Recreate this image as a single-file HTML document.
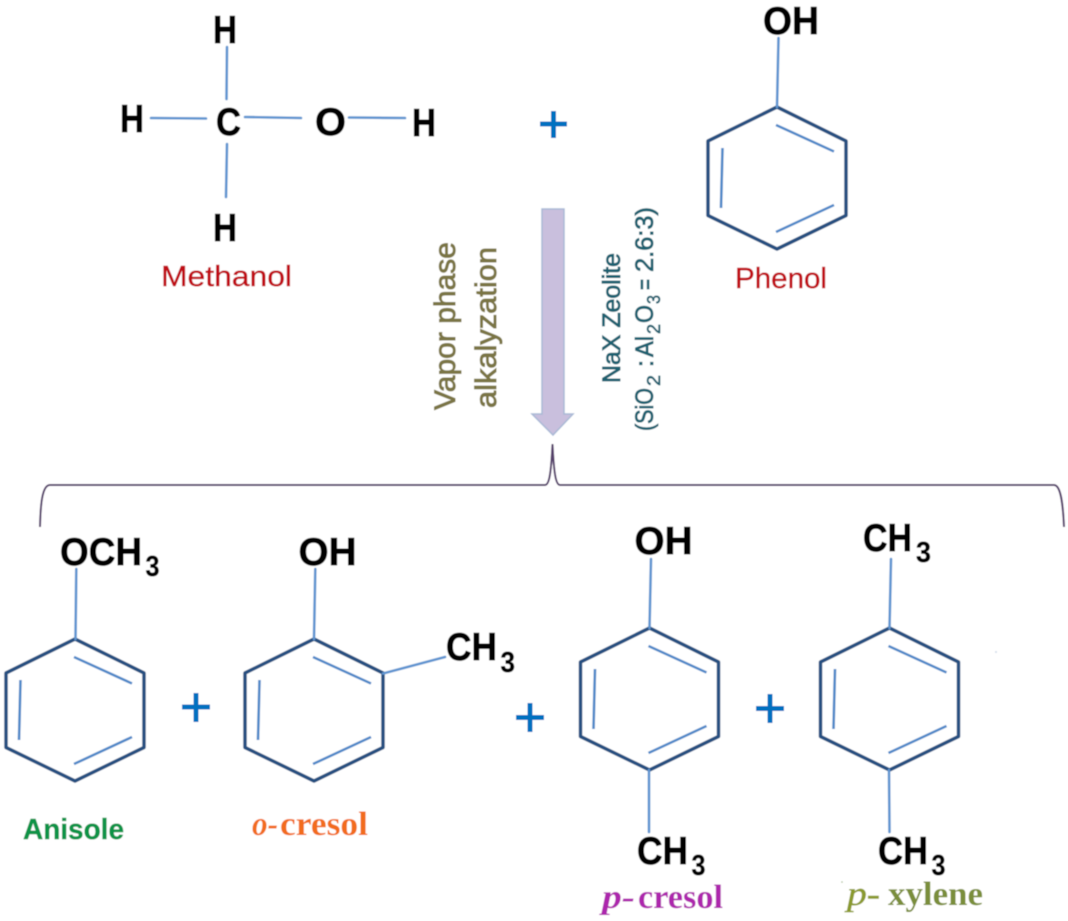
<!DOCTYPE html>
<html lang="en">
<head>
<meta charset="utf-8">
<title>Vapor phase alkylation of phenol with methanol</title>
<style>
html,body{margin:0;padding:0;background:#fff;width:1068px;height:921px;overflow:hidden}
svg{display:block}
text{font-family:"Liberation Sans",sans-serif}
.b{font-weight:bold;font-size:39px;fill:#000;stroke:#000;stroke-width:.7}
.s{font-weight:bold;font-size:29px;fill:#000;stroke:#000;stroke-width:.5}
.r{font-size:29px;fill:#c00d14;stroke:#c00d14;stroke-width:.4}
.t{font-size:25px;fill:#1f6070;stroke:#1f6070;stroke-width:.8}
.ts{font-size:18px;fill:#1f6070;stroke:#1f6070;stroke-width:.6}
.o{font-size:30px;fill:#7a7444;stroke:#7a7444;stroke-width:.9}
.f{font-family:"Liberation Serif",serif;font-weight:bold;font-size:34px}
.i{font-style:italic}
.l{stroke:#5f94d0;stroke-width:2.6;fill:none;stroke-linecap:round}
.p{stroke:#0070c0;stroke-width:5;fill:none}
</style>
</head>
<body>
<svg xmlns="http://www.w3.org/2000/svg" width="1068" height="921" viewBox="0 0 1068 921">
<defs>
<filter id="soft" x="0" y="0" width="100%" height="100%"><feGaussianBlur stdDeviation="0.55"/></filter>
<g id="ring">
<polygon points="0,0 69,34 69,108.5 0,142 -69,108.5 -69,34" fill="none" stroke="#274f80" stroke-width="3.5" stroke-linejoin="round"/>
<path d="M-1,18L57,44.5M-54.5,41L-56,101M-1,125L57,98" fill="none" stroke="#4f88c8" stroke-width="2.6"/>
</g>
</defs>
<g filter="url(#soft)">
<rect width="1068" height="921" fill="#fff"/>

<!-- Methanol -->
<path class="l" d="M227,47L226.5,99M151,118L206,118.5M245,117L301,118M349,117.5L405,118M227,144L226,197"/>
<text class="b" x="213" y="43" textLength="24" lengthAdjust="spacingAndGlyphs">H</text>
<text class="b" x="120" y="132" textLength="24" lengthAdjust="spacingAndGlyphs">H</text>
<text class="b" x="216" y="135" textLength="25" lengthAdjust="spacingAndGlyphs">C</text>
<text class="b" x="315" y="135" textLength="31" lengthAdjust="spacingAndGlyphs">O</text>
<text class="b" x="412" y="136" textLength="24" lengthAdjust="spacingAndGlyphs">H</text>
<text class="b" x="213" y="241" textLength="24" lengthAdjust="spacingAndGlyphs">H</text>
<text class="r" x="161" y="286" textLength="131" lengthAdjust="spacingAndGlyphs">Methanol</text>

<!-- Plus -->
<path class="p" d="M540,124H567M553.5,111V138"/>

<!-- Phenol -->
<use href="#ring" x="777" y="107"/>
<path class="l" d="M778.5,38L777,107"/>
<text class="b" x="763" y="34" textLength="56" lengthAdjust="spacingAndGlyphs">OH</text>
<text class="r" x="735" y="288" textLength="92" lengthAdjust="spacingAndGlyphs">Phenol</text>

<!-- Arrow -->
<polygon points="542,209 564,209 564,414 573,414 553,435 532,414 542,414" fill="#c9bfdd" stroke="#a9b9d6" stroke-width="1.5"/>

<!-- Rotated labels -->
<text class="o" transform="translate(455,410) rotate(-90)" textLength="168" lengthAdjust="spacingAndGlyphs">Vapor phase</text>
<text class="o" transform="translate(496,408) rotate(-90)" textLength="161" lengthAdjust="spacingAndGlyphs">alkalyzation</text>
<text class="t" transform="translate(620,383) rotate(-90)" textLength="130" lengthAdjust="spacingAndGlyphs">NaX Zeolite</text>
<g transform="translate(653,431) rotate(-90)">
<text class="t" x="0" y="0" textLength="43" lengthAdjust="spacingAndGlyphs">(SiO</text>
<text class="ts" x="45" y="7" textLength="11" lengthAdjust="spacingAndGlyphs">2</text>
<text class="t" x="64" y="0" textLength="7" lengthAdjust="spacingAndGlyphs">:</text>
<text class="t" x="74" y="0" textLength="21" lengthAdjust="spacingAndGlyphs">Al</text>
<text class="ts" x="97" y="7" textLength="10" lengthAdjust="spacingAndGlyphs">2</text>
<text class="t" x="108" y="0" textLength="18" lengthAdjust="spacingAndGlyphs">O</text>
<text class="ts" x="127" y="7" textLength="9" lengthAdjust="spacingAndGlyphs">3</text>
<text class="t" x="141" y="0" textLength="11" lengthAdjust="spacingAndGlyphs">=</text>
<text class="t" x="159" y="0" textLength="65" lengthAdjust="spacingAndGlyphs">2.6:3)</text>
</g>

<!-- Bracket -->
<path d="M40,527C40.5,505 42,485 50,485H545C549,485 551,475 552.5,444C554,475 556,485 560,485H1054C1061,485 1063,505 1064,527" fill="none" stroke="#54406a" stroke-width="2"/>

<!-- Anisole -->
<use href="#ring" x="75" y="639"/>
<path class="l" d="M76.3,569L75.5,639"/>
<text class="b" x="60" y="565" textLength="82" lengthAdjust="spacingAndGlyphs">OCH</text>
<text class="s" x="145.5" y="576" textLength="14" lengthAdjust="spacingAndGlyphs">3</text>
<text class="r" x="23" y="839" textLength="101" lengthAdjust="spacingAndGlyphs" style="fill:#0f9347;stroke:#0f9347;font-weight:bold">Anisole</text>

<path class="p" d="M182,707H210M196,693V722"/>

<!-- o-cresol -->
<use href="#ring" x="314" y="639"/>
<path class="l" d="M315.3,569L314,639M383,673.5L445,657"/>
<text class="b" x="298.5" y="565" textLength="58" lengthAdjust="spacingAndGlyphs">OH</text>
<text class="b" x="446" y="660" textLength="51" lengthAdjust="spacingAndGlyphs">CH</text>
<text class="s" x="500.5" y="672" textLength="14.5" lengthAdjust="spacingAndGlyphs">3</text>
<text class="f i" x="252" y="835" textLength="26" lengthAdjust="spacingAndGlyphs" style="fill:#f26c1e">o-</text>
<text class="f" x="280" y="835" textLength="88" lengthAdjust="spacingAndGlyphs" style="fill:#f26c1e">cresol</text>

<path class="p" d="M516,717.5H544M530,703V732"/>

<!-- p-cresol -->
<use href="#ring" x="649.5" y="628"/>
<path class="l" d="M651,559L649.5,628M649,770L649,832"/>
<text class="b" x="634.5" y="554" textLength="58" lengthAdjust="spacingAndGlyphs">OH</text>
<text class="b" x="637" y="864" textLength="51" lengthAdjust="spacingAndGlyphs">CH</text>
<text class="s" x="691.5" y="875" textLength="14" lengthAdjust="spacingAndGlyphs">3</text>
<text class="f i" x="602" y="908" textLength="33" lengthAdjust="spacingAndGlyphs" style="fill:#ad28ad">p-</text>
<text class="f" x="638" y="908" textLength="85" lengthAdjust="spacingAndGlyphs" style="fill:#ad28ad">cresol</text>

<path class="p" d="M756,708.5H784M770,694V723"/>

<!-- p-xylene -->
<use href="#ring" x="889.5" y="628"/>
<path class="l" d="M891,559L889.5,628M889,770L889.5,832"/>
<text class="b" x="863" y="551" textLength="49" lengthAdjust="spacingAndGlyphs">CH</text>
<text class="s" x="916" y="562" textLength="15" lengthAdjust="spacingAndGlyphs">3</text>
<text class="b" x="878" y="864" textLength="50" lengthAdjust="spacingAndGlyphs">CH</text>
<text class="s" x="931.5" y="875" textLength="14" lengthAdjust="spacingAndGlyphs">3</text>
<text class="f i" x="847" y="905" textLength="33" lengthAdjust="spacingAndGlyphs" style="fill:#8a9a2e;font-weight:normal;stroke:#8a9a2e;stroke-width:.5">p-</text>
<text class="f" x="888" y="905" textLength="95" lengthAdjust="spacingAndGlyphs" style="fill:#7a8e3a">xylene</text>
<circle cx="996" cy="652" r="1" fill="#cfdbe8"/>
<circle cx="842" cy="882" r="0.8" fill="#9fb88a"/>
</g>
</svg>
</body>
</html>
